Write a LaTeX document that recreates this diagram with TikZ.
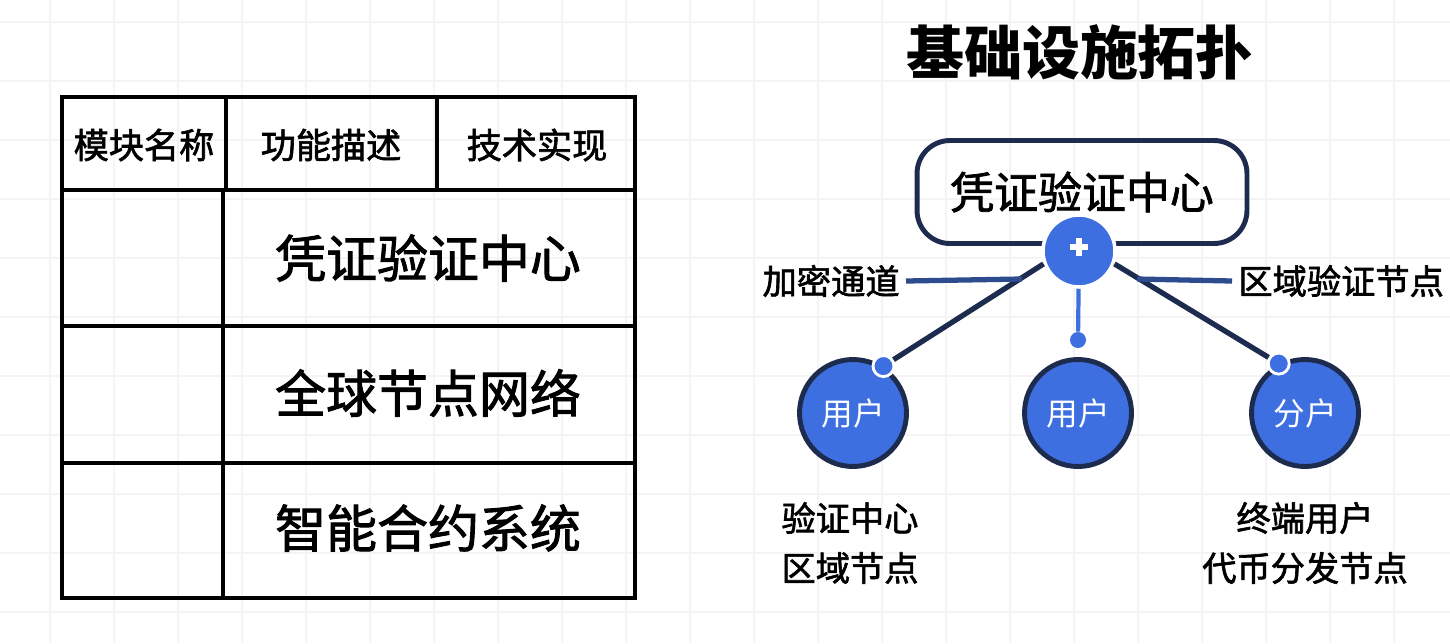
\documentclass[tikz,border=0pt]{standalone}
\usepackage{fontspec}
\setmainfont{Noto Sans CJK SC}
\newfontfamily\medfont{Noto Sans CJK SC}[FakeBold=1.8]
\usepackage{tikz}
\usepackage{xcolor}

\definecolor{nodeblue}{HTML}{3D6FE0}
\definecolor{navy}{HTML}{1D2B4E}
\definecolor{lineblue}{HTML}{2C4C8E}
\definecolor{gridgray}{HTML}{F4F4F4}

\tikzset{
  headcell/.style={font=\medfont\fontsize{20}{22}\selectfont},
  tablecell/.style={font=\medfont\fontsize{29}{31}\selectfont},
  sidetext/.style={inner sep=0.12cm, font=\medfont\fontsize{19.5}{22}\selectfont},
  usernode/.style={circle, fill=nodeblue, draw=navy, line width=2.8pt, minimum size=2.14cm, inner sep=0pt, text=white, font=\fontsize{18}{20}\selectfont},
  portdot/.style={circle, fill=nodeblue, draw=white, line width=1.6pt, minimum size=0.42cm, inner sep=0pt},
  linkline/.style={navy, line width=3pt},
}

\begin{document}
\begin{tikzpicture}[x=0.02cm, y=-0.02cm]
\useasboundingbox (0,0) rectangle (1450,643);
\fill[white] (0,0) rectangle (1450,643);
\foreach \gx in {50,114,...,1450} \draw[gridgray, line width=0.6pt] (\gx,0) -- (\gx,643);
\foreach \gy in {22,81,...,643} \draw[gridgray, line width=0.6pt] (0,\gy) -- (1450,\gy);

% table
\draw[line width=2.6pt] (62,97) rectangle (635,598);
\draw[line width=2.6pt] (62,190) -- (635,190) (62,326) -- (635,326) (62,463) -- (635,463);
\draw[line width=2.6pt] (226,97) -- (226,190) (437,97) -- (437,190) (223,190) -- (223,598);
\node[headcell] (h1) at (144,145) {模块名称};
\node[headcell] (h2) at (331,145) {功能描述};
\node[headcell] (h3) at (537,145) {技术实现};
\node[tablecell] (r1) at (428,258) {凭证验证中心};
\node[tablecell] (r2) at (428,393) {全球节点网络};
\node[tablecell] (r3) at (428,528) {智能合约系统};

% topology
\node[font=\fontsize{33}{36}\selectfont\bfseries] (topo) at (1080,52) {基础设施拓扑};
\node[draw=navy, line width=2.8pt, rounded corners=0.66cm, minimum width=6.6cm, minimum height=2.06cm, font=\medfont\fontsize{25}{28}\selectfont] (hub) at (1082,192) {凭证验证中心};
\node[circle, fill=nodeblue, draw=white, line width=2pt, minimum size=1.44cm] (core) at (1079,251) {};
\draw[white, line width=3.4pt] (1070,247) -- (1088,247) (1079,238) -- (1079,256);

\node[usernode] (u1) at (853,413) {用户};
\node[usernode] (u2) at (1078,413) {用户};
\node[usernode] (u3) at (1305,413) {分户};
\node[portdot] (p1) at (u1.57) {};
\node[portdot] (p3) at (u3.118) {};
\node[circle, fill=nodeblue, minimum size=0.32cm, inner sep=0pt] (p2) at (1078,340) {};

\draw[linkline] (core.200) -- (p1);
\draw[linkline] (core.340) -- (p3);
\draw[nodeblue, line width=2.4pt] (core) -- (p2);

\node[sidetext, anchor=east] (enc) at (906,281) {加密通道};
\node[sidetext, anchor=west] (reg) at (1232,281) {区域验证节点};
\coordinate (j1) at (1022,279);
\coordinate (j3) at (1137,279);
\draw[lineblue, line width=3pt] (enc.east) -- (j1);
\draw[lineblue, line width=3pt] (j3) -- (reg.west);

\node[sidetext] (b1) at (850,518) {验证中心};
\node[sidetext] (b2) at (850,568) {区域节点};
\node[sidetext] (b3) at (1305,518) {终端用户};
\node[sidetext] (b4) at (1305,568) {代币分发节点};
\end{tikzpicture}
\end{document}
